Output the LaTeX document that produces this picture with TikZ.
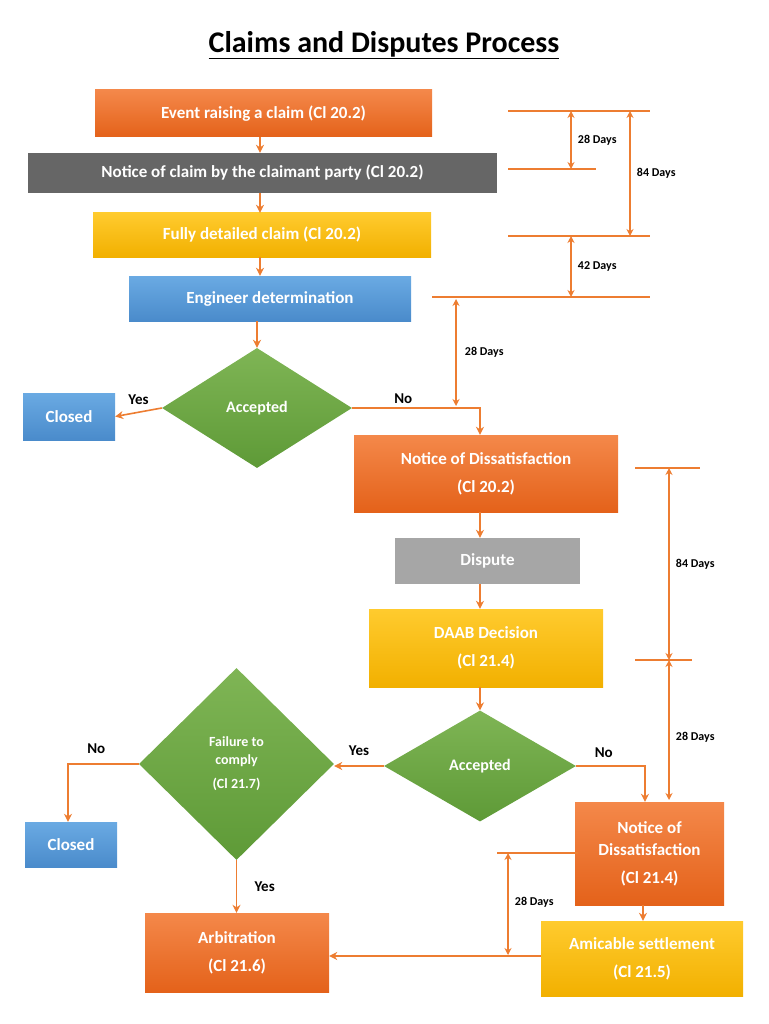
\documentclass[tikz,border=0pt]{standalone}
\usepackage{fontspec}
\setmainfont{Carlito}
\usetikzlibrary{shapes.geometric,arrows.meta}
\definecolor{org}{HTML}{ED7D31}
\definecolor{orgT}{HTML}{F4884A}
\definecolor{orgB}{HTML}{E4621A}
\definecolor{ylT}{HTML}{FFCB2E}
\definecolor{ylB}{HTML}{F2B000}
\definecolor{blT}{HTML}{6AAAE3}
\definecolor{blB}{HTML}{4A8BCB}
\definecolor{grT}{HTML}{7FB555}
\definecolor{grB}{HTML}{5E9A37}
\begin{document}
\begin{tikzpicture}[x=1pt,y=-1pt,
  box/.style={draw=none,inner sep=0,font=\bfseries\fontsize{17}{22}\selectfont,text=white,align=center},
  orange/.style={box,top color=orgT,bottom color=orgB},
  yellow/.style={box,top color=ylT,bottom color=ylB},
  blue/.style={box,top color=blT,bottom color=blB},
  gray/.style={box,fill=#1},
  dia/.style={diamond,draw=none,inner sep=0,top color=grT,bottom color=grB,font=\bfseries\fontsize{16}{22}\selectfont,text=white,align=center},
  arr/.style={draw=org,line width=1.6pt,-{Stealth[length=8pt,width=8pt]}},
  dim/.style={draw=org,line width=1.3pt,{Stealth[length=7pt,width=7pt]}-{Stealth[length=7pt,width=7pt]}},
  tick/.style={draw=org,line width=1.1pt},
  lab/.style={font=\bfseries\fontsize{12}{14}\selectfont},
  yn/.style={font=\bfseries\fontsize{15}{18}\selectfont}]
\useasboundingbox (0,0) rectangle (768,1024);
\node[font=\bfseries\fontsize{30}{34}\selectfont] (title) at (384,45) {\underline{Claims and Disputes Process}};
\node[orange,minimum width=337,minimum height=47] (b1) at (263.5,113.5) {Event raising a claim (Cl 20.2)};
\node[gray={gray!80!black},minimum width=469,minimum height=40] (b2) at (262.5,173) {Notice of claim by the claimant party (Cl 20.2)};
\node[yellow,minimum width=338,minimum height=44] (b3) at (262,235) {Fully detailed claim (Cl 20.2)};
\node[blue,minimum width=282,minimum height=45] (b4) at (270,298.5) {Engineer determination};
\node[dia,minimum width=190,minimum height=120] (d1) at (257,408) {Accepted};
\node[blue,minimum width=92,minimum height=47] (c1) at (69,416.5) {Closed};
\node[orange,minimum width=264,minimum height=77] (n1) at (486,473.5) {Notice of Dissatisfaction\\[6pt](Cl 20.2)};
\node[gray={gray!70},minimum width=185,minimum height=46] (dp) at (487.5,561) {Dispute};
\node[yellow,minimum width=234,minimum height=78] (daab) at (486,648) {DAAB Decision\\[6pt](Cl 21.4)};
\node[dia,minimum width=192,minimum height=111] (d2) at (480,766) {Accepted};
\node[dia,minimum width=195,minimum height=192,font=\bfseries\fontsize{14}{18}\selectfont] (d3) at (236.5,764) {Failure to\\comply\\[6pt](Cl 21.7)};
\node[blue,minimum width=92,minimum height=45] (c2) at (71,844.5) {Closed};
\node[orange,minimum width=149,minimum height=103] (n2) at (649.5,853.5) {Notice of\\Dissatisfaction\\[6pt](Cl 21.4)};
\node[orange,minimum width=184,minimum height=79] (ar) at (237,952.5) {Arbitration\\[6pt](Cl 21.6)};
\node[yellow,minimum width=202,minimum height=75] (am) at (642,958.5) {Amicable settlement\\[6pt](Cl 21.5)};
% connectors
\draw[arr] (b1.south -| 260,0) -- (b2.north -| 260,0);
\draw[arr] (b2.south -| 260,0) -- (b3.north -| 260,0);
\draw[arr] (b3.south -| 260,0) -- (b4.north -| 260,0);
\draw[arr] (b4.south -| d1) -- (d1.north);
\draw[arr] (d1.west) -- (c1.east) node[midway,above=4pt,yn] {Yes};
\draw[arr] (d1.east) -- (480,408) node[pos=0.4,above,yn] {No} -- (n1.north -| 480,0);
\draw[arr] (n1.south -| 480,0) -- (dp.north -| 480,0);
\draw[arr] (dp.south -| 480,0) -- (daab.north -| 480,0);
\draw[arr] (daab.south -| d2) -- (d2.north);
\draw[arr] (d2.west) -- (d3.east |- d2.west) node[midway,above=6pt,yn] {Yes};
\draw[arr] (d2.east) -- (645,766) node[pos=0.4,above=4pt,yn] {No} -- (n2.north -| 645,0);
\draw[arr] (d3.west) -- (68,764) node[pos=0.6,above=6pt,yn] {No} -- (c2.north -| 68,0);
\draw[arr] (d3.south) -- (ar.north -| d3) node[midway,right=14pt,yn] {Yes};
\draw[arr] (n2.south -| 643,0) -- (am.north -| 643,0);
\draw[arr] (am.west |- 0,956) -- (ar.east |- 0,956);
% dimension lines
\coordinate (h1a) at (508,111); \coordinate (h1b) at (650,111);
\coordinate (h2a) at (508,169); \coordinate (h2b) at (596,169);
\coordinate (h3a) at (508,236); \coordinate (h3b) at (650,236);
\coordinate (h4a) at (432,297); \coordinate (h4b) at (650,297);
\draw[tick] (h1a) -- (h1b); \draw[tick] (h2a) -- (h2b);
\draw[tick] (h3a) -- (h3b); \draw[tick] (h4a) -- (h4b);
\draw[dim] (571,111) -- (571,169) node[midway,right=3pt,lab] {28 Days};
\draw[dim] (630,111) -- (630,236) node[midway,right=3pt,lab] {84 Days};
\draw[dim] (571,236) -- (571,297) node[midway,right=3pt,lab] {42 Days};
\draw[dim] (456,299) -- (456,406) node[midway,right=5pt,lab] {28 Days};
\coordinate (h5a) at (635,468); \coordinate (h5b) at (700,468);
\coordinate (h6a) at (635,660); \coordinate (h6b) at (692,660);
\draw[tick] (h5a) -- (h5b); \draw[tick] (h6a) -- (h6b);
\draw[dim] (669,468) -- (669,660) node[midway,right=3pt,lab] {84 Days};
\draw[dim] (669,660) -- (669,800) node[pos=0.55,right=3pt,lab] {28 Days};
\coordinate (h7a) at (497,853); \coordinate (h7b) at (578,853);
\draw[tick] (h7a) -- (h7b);
\draw[dim] (508,853) -- (508,955) node[pos=0.48,right=3pt,lab] {28 Days};
\end{tikzpicture}
\end{document}
